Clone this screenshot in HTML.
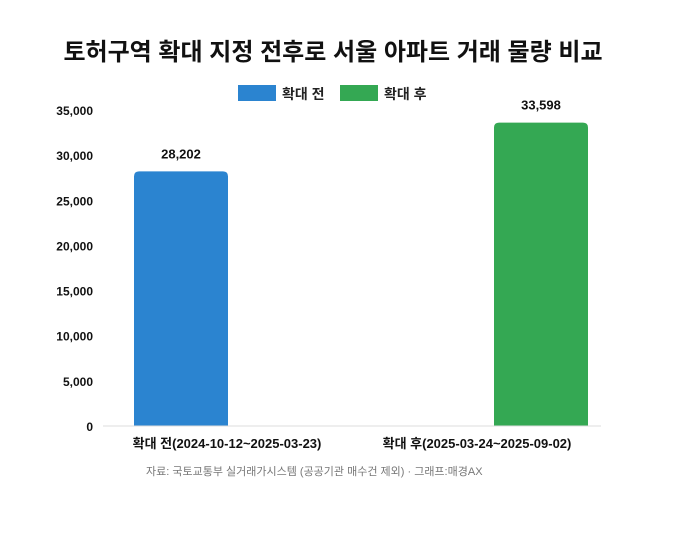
<!DOCTYPE html>
<html><head><meta charset="utf-8"><style>
body{margin:0;background:#fff;width:700px;height:544px;overflow:hidden;font-family:"Liberation Sans","Noto Sans CJK KR",sans-serif}
</style></head><body>
<svg width="700" height="544" font-family="Liberation Sans, Noto Sans CJK KR, sans-serif">
<text x="333" y="60" text-anchor="middle" font-size="24" font-weight="bold" fill="#111">토허구역 확대 지정 전후로 서울 아파트 거래 물량 비교</text>
<g>
<rect x="238" y="85" width="38" height="16" fill="#2b84d0"/>
<text x="282" y="99" font-size="14" font-weight="bold" fill="#222">확대 전</text>
<rect x="340" y="85" width="38" height="16" fill="#34a853"/>
<text x="384" y="99" font-size="14" font-weight="bold" fill="#222">확대 후</text>
</g>
<g id="axis"></g>
<g id="bars"></g>
<line x1="103" y1="426" x2="601" y2="426" stroke="#ddd"/>
<text x="227" y="448" text-anchor="middle" font-size="13" font-weight="bold" fill="#111">확대 전(2024-10-12~2025-03-23)</text>
<text x="477" y="448" text-anchor="middle" font-size="13" font-weight="bold" fill="#111">확대 후(2025-03-24~2025-09-02)</text>
<text x="146" y="475" font-size="11" fill="#777">자료: 국토교통부 실거래가시스템 (공공기관 매수건 제외) · 그래프:매경AX</text>
</svg>
<script>
const categories=["확대 전","확대 후"];
const values=[28202,33598];
const ticks=[0,5000,10000,15000,20000,25000,30000,35000];
const colors=["#2b84d0","#34a853"];
const y0=426,yTop=110,maxV=35000;
const y=v=>y0-(v/maxV)*(y0-yTop);
const xc=[181,541],bw=94;
const NS="http://www.w3.org/2000/svg";
const ax=document.getElementById('axis'),bars=document.getElementById('bars');
ticks.forEach(t=>{const e=document.createElementNS(NS,'text');
e.setAttribute('x',93);e.setAttribute('y',y(t)+5);e.setAttribute('text-anchor','end');
e.setAttribute('font-size','12');e.setAttribute('font-weight','bold');e.setAttribute('fill','#111');
e.textContent=t.toLocaleString('en-US');


ax.appendChild(e);});
values.forEach((v,i)=>{const r=document.createElementNS(NS,'path');
const x=xc[i]-bw/2,top=y(v),rr=5;
r.setAttribute('d',`M${x},${y0}V${top+rr}Q${x},${top} ${x+rr},${top}H${x+bw-rr}Q${x+bw},${top} ${x+bw},${top+rr}V${y0}Z`);
r.setAttribute('fill',colors[i]);


bars.appendChild(r);
const t=document.createElementNS(NS,'text');
t.setAttribute('x',xc[i]);t.setAttribute('y',top-13);t.setAttribute('text-anchor','middle');
t.setAttribute('font-size','13');t.setAttribute('font-weight','bold');t.setAttribute('fill','#111');
t.textContent=v.toLocaleString('en-US');


bars.appendChild(t);});
</script>
</body></html>
